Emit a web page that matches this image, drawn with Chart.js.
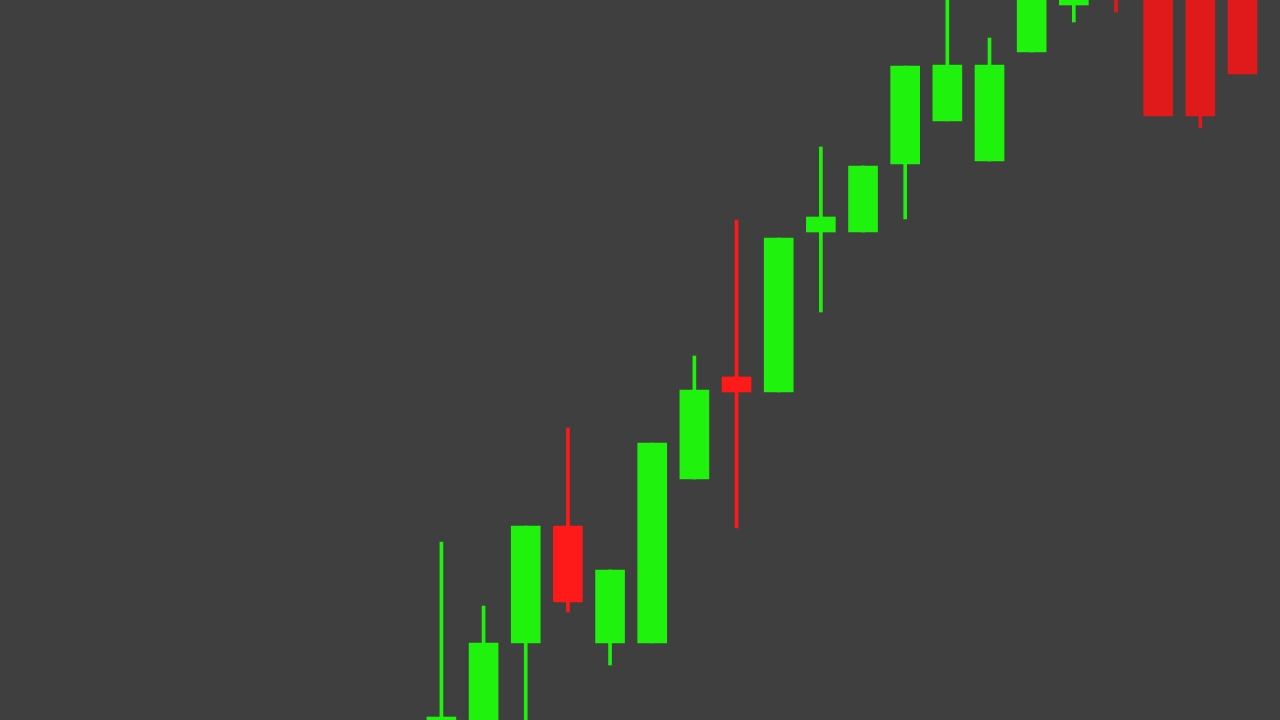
<!DOCTYPE html>
<html>
<head>
<meta charset="utf-8">
<script src="https://cdn.jsdelivr.net/npm/chart.js@4/dist/chart.umd.min.js"></script>
<style>
  html, body { margin: 0; padding: 0; background: #3f3f3f; overflow: hidden; }
  #wrap { width: 1280px; height: 720px; position: relative; }
</style>
</head>
<body>
<div id="wrap"><canvas id="c"></canvas></div>
<script>
// Candle index (position along the time axis)
const candleIndex = [0,1,2,3,4,5,6,7,8,9,10,11,12,13,14,15,16,17,18,19];
// OHLC prices
const openPrices  = [ 992,  960, 1077, 1194, 1077, 1077, 1241, 1343, 1328, 1488, 1488, 1556, 1599, 1559, 1668, 1715, 1780, 1750, 1740, 1730];
const highPrices  = [1178, 1114, 1194, 1292, 1150, 1277, 1364, 1500, 1482, 1573, 1554, 1654, 1740, 1682, 1760, 1780, 1800, 1760, 1750, 1740];
const lowPrices   = [ 985,  950,  990, 1108, 1055, 1077, 1241, 1192, 1328, 1408, 1488, 1501, 1599, 1559, 1668, 1698, 1708, 1604, 1592, 1646];
const closePrices = [1003, 1077, 1194, 1118, 1150, 1277, 1330, 1328, 1482, 1503, 1554, 1654, 1655, 1655, 1750, 1745, 1725, 1604, 1604, 1646];
// Visible window
const xRange = { min: -10.47, max: 19.89 };
const yRange = { min: 1000, max: 1720 };

const UP = '#1ff20c';
const DOWN_A = '#ff1a1a';
const DOWN_B = '#e01a1a';

const candleColor = candleIndex.map(i => closePrices[i] >= openPrices[i] ? UP : (i > 10 ? DOWN_B : DOWN_A));

const bodies = candleIndex.map(i => ({ x: i, y: [openPrices[i], closePrices[i]] }));
const wicks = candleIndex.map(i => ({ x: i, y: [lowPrices[i], highPrices[i]] }));

new Chart(document.getElementById('c'), {
  type: 'bar',
  data: {
    datasets: [
      {
        label: 'Body',
        data: bodies,
        backgroundColor: candleColor,
        borderWidth: 0,
        barThickness: 29,
        grouped: false
      },
      {
        label: 'Wick',
        data: wicks,
        backgroundColor: candleColor,
        borderWidth: 0,
        barThickness: 3,
        grouped: false
      }
    ]
  },
  options: {
    responsive: true,
    maintainAspectRatio: false,
    animation: false,
    layout: { padding: 0 },
    plugins: { legend: { display: false }, tooltip: { enabled: false } },
    scales: {
      x: { type: 'linear', min: xRange.min, max: xRange.max, display: false, offset: false },
      y: { min: yRange.min, max: yRange.max, display: false }
    }
  }
});
</script>
</body>
</html>
